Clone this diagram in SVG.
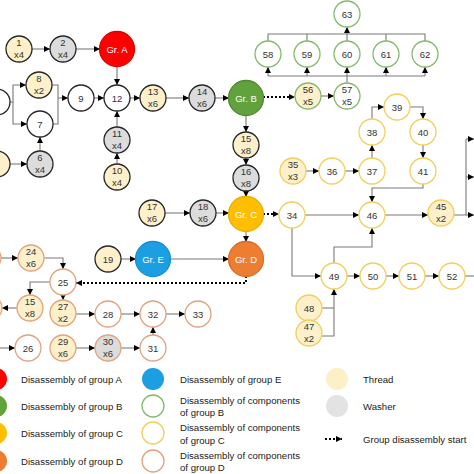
<svg xmlns="http://www.w3.org/2000/svg" width="474" height="474" viewBox="0 0 474 474">
<defs>
<marker id="ar" markerUnits="userSpaceOnUse" markerWidth="7" markerHeight="7" refX="6" refY="3" orient="auto"><path d="M0,0 L6,3 L0,6 z" fill="#000"/></marker>
<style>
.c{fill:none;stroke:#7a7a7a;stroke-width:1.1}
.a{marker-end:url(#ar)}
.d{fill:none;stroke:#000;stroke-width:2;stroke-dasharray:2 2}
circle{stroke-width:1.3}
.k{fill:#fff;stroke:#262626}
.kt{fill:#fdf0cb;stroke:#262626}
.kw{fill:#dcdcdc;stroke:#262626}
.g{fill:#fff;stroke:#86b86a}
.gt{fill:#fdf0cb;stroke:#86b86a}
.y{fill:#fff;stroke:#f0cf5c}
.yt{fill:#fdf0cb;stroke:#f0cf5c}
.o{fill:#fff;stroke:#e1a37c}
.ot{fill:#fdf0cb;stroke:#e1a37c}
.ow{fill:#dcdcdc;stroke:#e1a37c}
text{font-family:"Liberation Sans",Arial,sans-serif;font-size:9.5px;fill:#333;text-anchor:middle}
.w{fill:#fff}
.lg{text-anchor:start;font-size:9.6px;fill:#222}
</style>
</defs>
<rect width="474" height="474" fill="#fff"/>
<g id="connectors">
<path class="c a" d="M10,102 H13 V85 H26"/>
<path class="c a" d="M13,102 V124 H27"/>
<path class="c" d="M52,85 H58 V124 H53"/>
<path class="c a" d="M58,98 H68"/>
<path class="c a" d="M10,164 H27"/>
<path class="c a" d="M40,151 V137"/>
<path class="c a" d="M32,49 H50"/>
<path class="c a" d="M76,49 H100"/>
<path class="c a" d="M117,67 V85"/>
<path class="c a" d="M94,98 H104"/>
<path class="c a" d="M117,164 V153"/>
<path class="c a" d="M117,127 V111"/>
<path class="c a" d="M130,98 H140"/>
<path class="c a" d="M166,98 H189"/>
<path class="c a" d="M215,98 H229"/>
<path class="d a" d="M263,97 H295"/>
<path class="c a" d="M321,96 H334"/>
<path class="c" d="M347,83 V76 M268,76 H425"/>
<path class="c a" d="M268,76 V67"/>
<path class="c a" d="M307,76 V67"/>
<path class="c a" d="M347,76 V67"/>
<path class="c a" d="M386,76 V67"/>
<path class="c a" d="M425,76 V67"/>
<path class="c" d="M268,41 V34 H425 V41 M307,41 V34 M347,41 V34 M386,41 V34"/>
<path class="c a" d="M347,34 V27"/>
<path class="c a" d="M246,115 V132"/>
<path class="c a" d="M246,158 V165"/>
<path class="c a" d="M246,191 V197"/>
<path class="c a" d="M165,213 H190"/>
<path class="c a" d="M216,213 H229"/>
<path class="c a" d="M246,231 V242"/>
<path class="d a" d="M263,214 H279"/>
<path class="c a" d="M170,259 H229"/>
<path class="c a" d="M121,259 H136"/>
<path class="d a" d="M246,276 V283 H76"/>
<path class="c a" d="M305,215 H359"/>
<path class="c a" d="M292,228 V276 H321"/>
<path class="c a" d="M334,263 V247 H372 V228"/>
<path class="c" d="M322,308 H334"/>
<path class="c a" d="M322,336 H334 V289"/>
<path class="c a" d="M347,276 H360"/>
<path class="c a" d="M386,276 H399"/>
<path class="c a" d="M425,276 H439"/>
<path class="c" d="M465,276 H474"/>
<path class="c a" d="M306,171 H319"/>
<path class="c a" d="M345,171 H359"/>
<path class="c a" d="M372,158 V145"/>
<path class="c a" d="M372,119 V107 H384"/>
<path class="c a" d="M410,107 H423 V119"/>
<path class="c a" d="M423,145 V158"/>
<path class="c a" d="M423,184 V188 H372 V202"/>
<path class="c a" d="M385,215 H428"/>
<path class="c" d="M454,215 H466 M466,139 V215"/>
<path class="c a" d="M466,139 H474"/>
<path class="c a" d="M466,177 H474"/>
<path class="c a" d="M466,215 H474"/>
<path class="c a" d="M1,258 H18"/>
<path class="c a" d="M44,258 H63 V269"/>
<path class="c a" d="M50,282 H30 V295"/>
<path class="c a" d="M17,308 H2"/>
<path class="c a" d="M63,295 V300"/>
<path class="c a" d="M76,314 H95"/>
<path class="c a" d="M121,314 H140"/>
<path class="c a" d="M166,314 H185"/>
<path class="c a" d="M0,348 H15"/>
<path class="c a" d="M76,348 H95"/>
<path class="c a" d="M121,348 H140"/>
<path class="c a" d="M153,335 V327"/>
</g>
<g id="nL1"><circle class="k" cx="-3" cy="102" r="13"/></g>
<g id="nL2"><circle class="kt" cx="-3" cy="164" r="13"/></g>
<g id="n1"><circle class="kt" cx="19" cy="49" r="13"/><text x="19" y="46">1</text><text x="19" y="58">x4</text></g>
<g id="n2"><circle class="kw" cx="63" cy="49" r="13"/><text x="63" y="46">2</text><text x="63" y="58">x4</text></g>
<g id="nA"><circle cx="117" cy="49" r="17.5" fill="#ff0000" stroke="#e00000"/><text class="w" x="117" y="52.5">Gr. A</text></g>
<g id="n8"><circle class="kt" cx="39" cy="85" r="13"/><text x="39" y="82">8</text><text x="39" y="94">x2</text></g>
<g id="n7"><circle class="k" cx="40" cy="124" r="13"/><text x="40" y="127.5">7</text></g>
<g id="n6"><circle class="kw" cx="40" cy="164" r="13"/><text x="40" y="161">6</text><text x="40" y="173">x4</text></g>
<g id="n9"><circle class="k" cx="81" cy="98" r="13"/><text x="81" y="101.5">9</text></g>
<g id="n12"><circle class="k" cx="117" cy="98" r="13"/><text x="117" y="101.5">12</text></g>
<g id="n13"><circle class="kt" cx="153" cy="98" r="13"/><text x="153" y="95">13</text><text x="153" y="107">x6</text></g>
<g id="n14"><circle class="kw" cx="202" cy="98" r="13"/><text x="202" y="95">14</text><text x="202" y="107">x6</text></g>
<g id="nB"><circle cx="246" cy="98" r="17.5" fill="#62a23d" stroke="#4f8a2f"/><text class="w" x="246" y="101.5">Gr. B</text></g>
<g id="n11"><circle class="kw" cx="117" cy="140" r="13"/><text x="117" y="137">11</text><text x="117" y="149">x4</text></g>
<g id="n10"><circle class="kt" cx="117" cy="177" r="13"/><text x="117" y="174">10</text><text x="117" y="186">x4</text></g>
<g id="n15a"><circle class="kt" cx="246" cy="145" r="13"/><text x="246" y="142">15</text><text x="246" y="154">x8</text></g>
<g id="n16"><circle class="kw" cx="246" cy="178" r="13"/><text x="246" y="175">16</text><text x="246" y="187">x8</text></g>
<g id="n17"><circle class="kt" cx="152" cy="213" r="13"/><text x="152" y="210">17</text><text x="152" y="222">x6</text></g>
<g id="n18"><circle class="kw" cx="203" cy="213" r="13"/><text x="203" y="210">18</text><text x="203" y="222">x6</text></g>
<g id="nC"><circle cx="246" cy="214" r="17.5" fill="#ffbf00" stroke="#e8ad00"/><text class="w" x="246" y="217.5">Gr. C</text></g>
<g id="nD"><circle cx="246" cy="259" r="17.5" fill="#ed7d31" stroke="#d86d25"/><text class="w" x="246" y="262.5">Gr. D</text></g>
<g id="n19"><circle class="kt" cx="108" cy="259" r="13"/><text x="108" y="262.5">19</text></g>
<g id="nE"><circle cx="153" cy="259" r="17.5" fill="#1b9fe2" stroke="#1590cf"/><text class="w" x="153" y="262.5">Gr. E</text></g>
<g id="n34"><circle class="y" cx="292" cy="215" r="13"/><text x="292" y="218.5">34</text></g>
<g id="n56"><circle class="gt" cx="308" cy="96" r="13"/><text x="308" y="93">56</text><text x="308" y="105">x5</text></g>
<g id="n57"><circle class="g" cx="347" cy="96" r="13"/><text x="347" y="93">57</text><text x="347" y="105">x5</text></g>
<g id="n58"><circle class="g" cx="268" cy="54" r="13"/><text x="268" y="57.5">58</text></g>
<g id="n59"><circle class="g" cx="307" cy="54" r="13"/><text x="307" y="57.5">59</text></g>
<g id="n60"><circle class="g" cx="347" cy="54" r="13"/><text x="347" y="57.5">60</text></g>
<g id="n61"><circle class="g" cx="386" cy="54" r="13"/><text x="386" y="57.5">61</text></g>
<g id="n62"><circle class="g" cx="425" cy="54" r="13"/><text x="425" y="57.5">62</text></g>
<g id="n63"><circle class="g" cx="347" cy="14" r="13"/><text x="347" y="17.5">63</text></g>
<g id="n38"><circle class="y" cx="372" cy="132" r="13"/><text x="372" y="135.5">38</text></g>
<g id="n39"><circle class="y" cx="397" cy="107" r="13"/><text x="397" y="110.5">39</text></g>
<g id="n40"><circle class="y" cx="423" cy="132" r="13"/><text x="423" y="135.5">40</text></g>
<g id="n41"><circle class="y" cx="423" cy="171" r="13"/><text x="423" y="174.5">41</text></g>
<g id="n35"><circle class="yt" cx="293" cy="171" r="13"/><text x="293" y="168">35</text><text x="293" y="180">x3</text></g>
<g id="n36"><circle class="y" cx="332" cy="171" r="13"/><text x="332" y="174.5">36</text></g>
<g id="n37"><circle class="y" cx="372" cy="171" r="13"/><text x="372" y="174.5">37</text></g>
<g id="n46"><circle class="y" cx="372" cy="215" r="13"/><text x="372" y="218.5">46</text></g>
<g id="n45"><circle class="yt" cx="441" cy="213" r="13"/><text x="441" y="210">45</text><text x="441" y="222">x2</text></g>
<g id="n49"><circle class="y" cx="334" cy="276" r="13"/><text x="334" y="279.5">49</text></g>
<g id="n50"><circle class="y" cx="373" cy="276" r="13"/><text x="373" y="279.5">50</text></g>
<g id="n51"><circle class="y" cx="412" cy="276" r="13"/><text x="412" y="279.5">51</text></g>
<g id="n52"><circle class="y" cx="452" cy="276" r="13"/><text x="452" y="279.5">52</text></g>
<g id="n48"><circle class="yt" cx="309" cy="308" r="13"/><text x="309" y="311.5">48</text></g>
<g id="n47"><circle class="yt" cx="309" cy="333" r="13"/><text x="309" y="330">47</text><text x="309" y="342">x2</text></g>
<g id="nL3"><circle class="ot" cx="-12" cy="258" r="13"/></g>
<g id="n24"><circle class="ot" cx="31" cy="258" r="13"/><text x="31" y="255">24</text><text x="31" y="267">x6</text></g>
<g id="n25"><circle class="o" cx="63" cy="282" r="13"/><text x="63" y="285.5">25</text></g>
<g id="n15b"><circle class="ot" cx="30" cy="308" r="13"/><text x="30" y="305">15</text><text x="30" y="317">x8</text></g>
<g id="nL4"><circle class="ot" cx="-11" cy="308" r="13"/></g>
<g id="n27"><circle class="ot" cx="63" cy="313" r="13"/><text x="63" y="310">27</text><text x="63" y="322">x2</text></g>
<g id="n28"><circle class="o" cx="108" cy="314" r="13"/><text x="108" y="317.5">28</text></g>
<g id="n32"><circle class="o" cx="153" cy="314" r="13"/><text x="153" y="317.5">32</text></g>
<g id="n33"><circle class="o" cx="198" cy="314" r="13"/><text x="198" y="317.5">33</text></g>
<g id="n26"><circle class="o" cx="28" cy="348" r="13"/><text x="28" y="351.5">26</text></g>
<g id="n29"><circle class="ot" cx="63" cy="348" r="13"/><text x="63" y="345">29</text><text x="63" y="357">x6</text></g>
<g id="n30"><circle class="ow" cx="108" cy="348" r="13"/><text x="108" y="345">30</text><text x="108" y="357">x6</text></g>
<g id="n31"><circle class="o" cx="153" cy="348" r="13"/><text x="153" y="351.5">31</text></g>
<g id="legend">
<circle cx="-4" cy="379" r="11" fill="#ff0000" stroke="none"/>
<circle cx="-4" cy="406" r="11" fill="#62a23d" stroke="none"/>
<circle cx="-4" cy="433" r="11" fill="#ffbf00" stroke="none"/>
<circle cx="-4" cy="461" r="11" fill="#ed7d31" stroke="none"/>
<text class="lg" x="21" y="382.5">Disassembly of group A</text>
<text class="lg" x="21" y="409.5">Disassembly of group B</text>
<text class="lg" x="21" y="436.5">Disassembly of group C</text>
<text class="lg" x="21" y="464.5">Disassembly of group D</text>
<circle cx="153" cy="379" r="11" fill="#1b9fe2" stroke="none"/>
<circle class="g" cx="153" cy="406" r="11"/>
<circle class="y" cx="153" cy="433" r="11"/>
<circle class="o" cx="153" cy="461" r="11"/>
<text class="lg" x="180" y="382.5">Disassembly of group E</text>
<text class="lg" x="180" y="403.5">Disassembly of components</text>
<text class="lg" x="180" y="416">of group B</text>
<text class="lg" x="180" y="431">Disassembly of components</text>
<text class="lg" x="180" y="443.5">of group C</text>
<text class="lg" x="180" y="458.5">Disassembly of components</text>
<text class="lg" x="180" y="471">of group D</text>
<circle cx="337" cy="379" r="11" fill="#fdefc6" stroke="none"/>
<circle cx="337" cy="406" r="11" fill="#e3e3e3" stroke="none"/>
<text class="lg" x="363" y="382.5">Thread</text>
<text class="lg" x="363" y="409.5">Washer</text>
<path class="d a" d="M325,439 H342"/>
<text class="lg" x="363" y="442.5">Group disassembly start</text>
</g>
</svg>
